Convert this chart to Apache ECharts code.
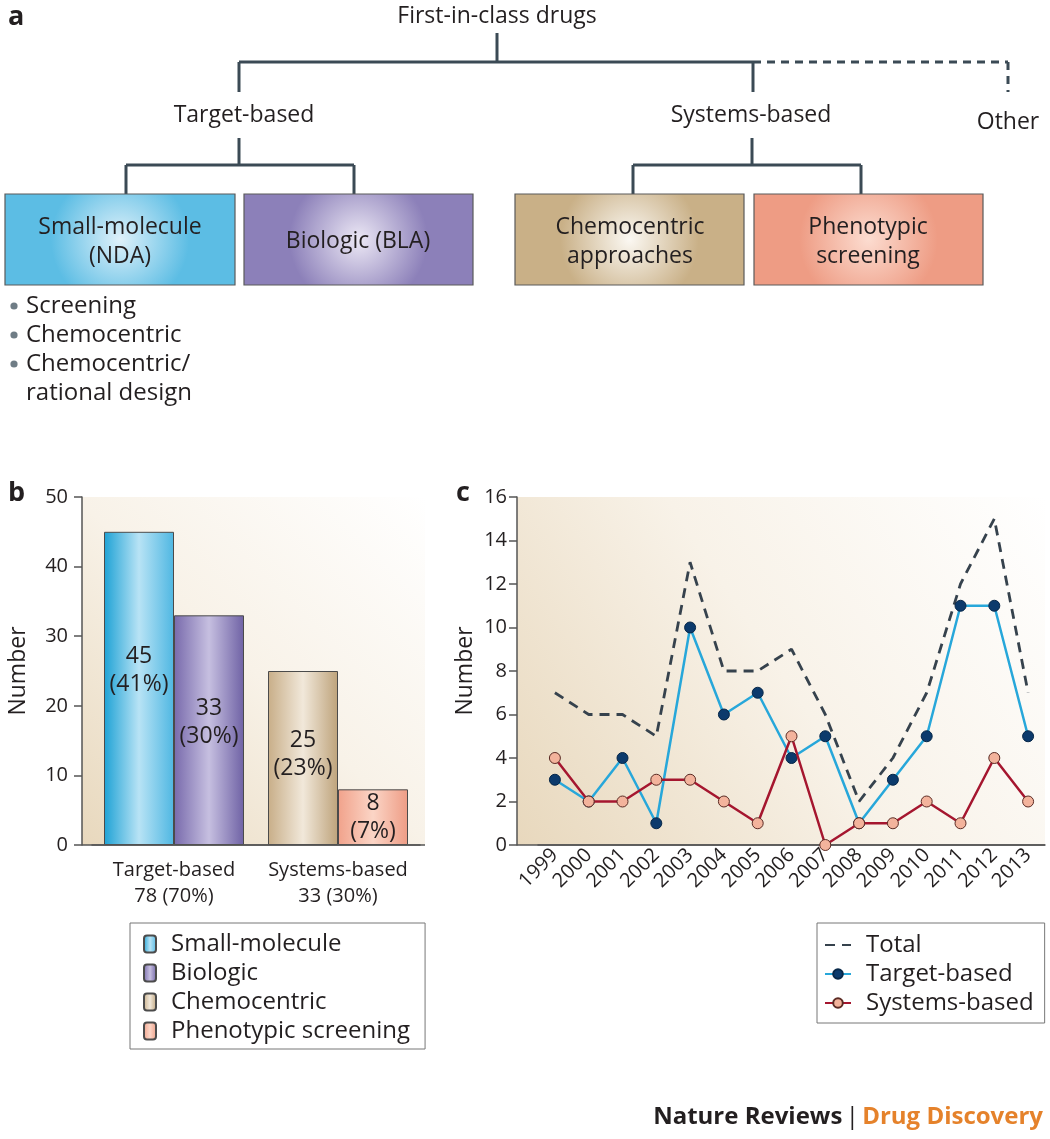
<!DOCTYPE html>
<html>
<head>
<meta charset="utf-8">
<script src="https://cdn.jsdelivr.net/npm/echarts@6/dist/echarts.min.js"></script>
<style>
html,body{margin:0;padding:0;background:#fff;}
#chart{width:1050px;height:1139px;}
</style>
</head>
<body>
<div id="chart"></div>
<script>
// ---------- data ----------
const approachGroups = ['Target-based', 'Systems-based'];
const groupTotals = ['78 (70%)', '33 (30%)'];
const smallMolecule = [45, '-'];
const biologic = [33, '-'];
const chemocentric = ['-', 25];
const phenotypic = ['-', 8];
const barPercents = {'Small-molecule': '41%', 'Biologic': '30%', 'Chemocentric': '23%', 'Phenotypic screening': '7%'};
const barTicks = {min: 0, max: 50, interval: 10};

const years = ['1999','2000','2001','2002','2003','2004','2005','2006','2007','2008','2009','2010','2011','2012','2013'];
const totalDrugs   = [7, 6, 6, 5, 13, 8, 8, 9, 6, 2, 4, 7, 12, 15, 7];
const targetBased  = [3, 2, 4, 1, 10, 6, 7, 4, 5, 1, 3, 5, 11, 11, 5];
const systemsBased = [4, 2, 2, 3, 3, 2, 1, 5, 0, 1, 1, 2, 1, 4, 2];
const lineTicks = {min: 0, max: 16, interval: 2};

// ---------- styling helpers ----------
const FONT = '"Open Sans", "Noto Sans", sans-serif';
const INK = '#231f20';
const TREE = '#3b4a55';
function hGrad(edgeL, mid, edgeR){
  return {type:'linear', x:0, y:0, x2:1, y2:0, colorStops:[
    {offset:0, color:edgeL},{offset:0.5, color:mid},{offset:1, color:edgeR}]};
}
function rGrad(center, edge){
  return {type:'radial', x:0.5, y:0.5, r:0.75, colorStops:[
    {offset:0, color:center},{offset:1, color:edge}]};
}
function bgGrad(){
  return {type:'linear', x:0, y:1, x2:1, y2:0, colorStops:[
    {offset:0, color:'#e8d8bd'},{offset:0.5, color:'#f8f2e8'},{offset:1, color:'#ffffff'}]};
}
function line(x1,y1,x2,y2,dashed){
  return {type:'line', shape:{x1,y1,x2,y2}, style:{stroke:TREE, lineWidth:3, lineDash: dashed ? [8,6] : null}};
}
function txt(text,x,y,opt){
  opt = opt || {};
  return {type:'text', x, y, style:{text, fill: opt.fill || INK, fontSize: opt.size || 23,
    fontFamily: FONT, fontWeight: opt.weight || 'normal',
    textAlign: opt.align || 'center', textVerticalAlign:'middle'}};
}
function box(x,y,w,h,fill){
  return {type:'rect', shape:{x,y,width:w,height:h}, style:{fill, stroke:'#5a5a5a', lineWidth:1.2}};
}
function dot(x,y){
  return {type:'circle', shape:{cx:x, cy:y, r:3.6}, style:{fill:'#6f7d86'}};
}

const elements = [
  // backgrounds of plot areas and axis base lines
  {type:'rect', z:-5, shape:{x:82, y:497, width:343, height:348}, style:{fill:bgGrad()}},
  {type:'rect', z:-5, shape:{x:517, y:497, width:528, height:348}, style:{fill:bgGrad()}},
  {type:'line', z:5, shape:{x1:82, y1:845, x2:425, y2:845}, style:{stroke:'#555', lineWidth:1.5}},
  {type:'line', z:5, shape:{x1:517, y1:845, x2:1045, y2:845}, style:{stroke:'#555', lineWidth:1.5}},
  // panel letters
  txt('a', 8, 17, {size:27, weight:'bold', align:'left'}),
  txt('b', 8, 493, {size:27, weight:'bold', align:'left'}),
  txt('c', 456, 493, {size:27, weight:'bold', align:'left'}),
  // tree
  txt('First-in-class drugs', 497, 16),
  line(497,33,497,62),
  line(239,62,753,62),
  line(753,62,1008,62,true),
  line(1008,62,1008,92,true),
  line(239,62,239,92),
  line(753,62,753,92),
  txt('Target-based', 244, 115),
  txt('Systems-based', 751, 115),
  txt('Other', 1008, 122),
  line(239,138,239,165),
  line(126,165,354,165),
  line(126,165,126,194),
  line(354,165,354,194),
  line(752,138,752,165),
  line(633,165,861,165),
  line(633,165,633,194),
  line(861,165,861,194),
  box(5,194,230,91, rGrad('#dff1fa', '#5cbde4')),
  box(244,194,229,91, rGrad('#ece8f5', '#8c80b9')),
  box(515,194,229,91, rGrad('#fbf8f2', '#c9b087')),
  box(754,194,229,91, rGrad('#fcdcd0', '#ee9c84')),
  txt('Small-molecule', 120, 227),
  txt('(NDA)', 120, 256),
  txt('Biologic (BLA)', 358, 241),
  txt('Chemocentric', 630, 227),
  txt('approaches', 630, 256),
  txt('Phenotypic', 868, 227),
  txt('screening', 868, 256),
  dot(14,306), dot(14,335), dot(14,364),
  txt('Screening', 26, 306, {align:'left', size:24}),
  txt('Chemocentric', 26, 335, {align:'left', size:24}),
  txt('Chemocentric/', 26, 364, {align:'left', size:24}),
  txt('rational design', 26, 393, {align:'left', size:24}),
  // footer
  {type:'text', x:1043, y:1117, style:{
    text:'{a|Nature Reviews} {s||} {b|Drug Discovery}', textAlign:'right', textVerticalAlign:'middle',
    rich:{
      a:{fontSize:24, fontWeight:'bold', fill:INK, fontFamily:FONT},
      s:{fontSize:24, fontWeight:'normal', fill:INK, fontFamily:FONT},
      b:{fontSize:24, fontWeight:'bold', fill:'#e5822b', fontFamily:FONT}
    }}}
];

function barSeries(name, data, stack, color, labelShift){
  return {
    name, type:'bar', data, stack, xAxisIndex:0, yAxisIndex:0,
    barWidth:70, barGap:'0%',
    itemStyle:{color, borderColor:'#4b4b4b', borderWidth:1},
    label:{show:true, position:'inside', offset:[0, labelShift], fontSize:23, lineHeight:28, color:INK, fontFamily:FONT,
      formatter: p => p.value + '\n(' + barPercents[name] + ')'}
  };
}

const axisLineStyle = {lineStyle:{color:'#555', width:1.5}};
const legendText = {fontSize:24, lineHeight:24, color:INK, fontFamily:FONT, padding:[0,0,0,10]};
const option = {
  animation:false,
  textStyle:{fontFamily:FONT, color:INK},
  graphic:{elements},
  grid:[
    {left:92, top:497, width:328, height:348},
    {left:538, top:497, width:507, height:348}
  ],
  xAxis:[
    {type:'category', gridIndex:0, data:approachGroups,
      axisLine:axisLineStyle,
      axisTick:{alignWithLabel:true, length:12, lineStyle:{color:'#555', width:1.5}},
      axisLabel:{fontSize:20, lineHeight:26, color:INK, margin:12, interval:0, fontFamily:FONT,
        formatter:(v, i) => v + '\n' + groupTotals[i]}},
    {type:'category', gridIndex:1, data:years,
      axisLine:axisLineStyle,
      axisTick:{alignWithLabel:true, length:12, lineStyle:{color:'#555', width:1.5}},
      axisLabel:{fontSize:20, color:INK, rotate:45, margin:7, interval:0, fontFamily:FONT}}
  ],
  yAxis:[
    {type:'value', gridIndex:0, min:barTicks.min, max:barTicks.max, interval:barTicks.interval, offset:10,
      name:'Number', nameLocation:'middle', nameGap:52,
      nameTextStyle:{fontSize:23, color:INK, fontFamily:FONT},
      axisLine:{show:true, lineStyle:{color:'#555', width:1.5}},
      axisTick:{show:true, length:8, lineStyle:{color:'#555', width:1.5}},
      axisLabel:{fontSize:20, color:INK, margin:14, fontFamily:FONT},
      splitLine:{show:false}},
    {type:'value', gridIndex:1, min:lineTicks.min, max:lineTicks.max, interval:lineTicks.interval, offset:21,
      name:'Number', nameLocation:'middle', nameGap:40,
      nameTextStyle:{fontSize:23, color:INK, fontFamily:FONT},
      axisLine:{show:true, lineStyle:{color:'#555', width:1.5}},
      axisTick:{show:true, length:8, lineStyle:{color:'#555', width:1.5}},
      axisLabel:{fontSize:20, color:INK, margin:10, fontFamily:FONT},
      splitLine:{show:false}}
  ],
  legend:[
    {left:130, top:923, orient:'vertical', padding:[9,15,6,13], itemGap:5,
      itemWidth:12, itemHeight:17, borderColor:'#777', borderWidth:1,
      textStyle:legendText,
      data:['Small-molecule','Biologic','Chemocentric','Phenotypic screening']},
    {left:817, top:923, orient:'vertical', padding:[10,11,8,7], itemGap:5,
      itemWidth:26, itemHeight:12, borderColor:'#777', borderWidth:1,
      textStyle:legendText,
      data:[{name:'Total', itemStyle:{opacity:0}}, 'Target-based', 'Systems-based']}
  ],
  series:[
    barSeries('Small-molecule', smallMolecule, 'left', hGrad('#1ea2d5', '#b8e3f5', '#4fb7e2'), -18),
    barSeries('Biologic', biologic, 'right', hGrad('#786aac', '#c6bfe0', '#6f62a5'), -8),
    barSeries('Chemocentric', chemocentric, 'left', hGrad('#c8ae88', '#f1e8da', '#bea37b'), -4),
    barSeries('Phenotypic screening', phenotypic, 'right', hGrad('#f1a28b', '#fbd5c6', '#ee9c85'), 0),
    {name:'Total', type:'line', xAxisIndex:1, yAxisIndex:1, data:totalDrugs,
      symbol:'none', lineStyle:{color:'#36424d', width:2.8, type:[10,7]},
      itemStyle:{color:'#36424d'}, z:3},
    {name:'Target-based', type:'line', xAxisIndex:1, yAxisIndex:1, data:targetBased,
      symbol:'circle', symbolSize:11, showAllSymbol:true,
      lineStyle:{color:'#27a7da', width:2.5},
      itemStyle:{color:'#0c3a6c', borderColor:'#072748', borderWidth:1}, z:4},
    {name:'Systems-based', type:'line', xAxisIndex:1, yAxisIndex:1, data:systemsBased,
      symbol:'circle', symbolSize:11, showAllSymbol:true,
      lineStyle:{color:'#a5162f', width:2.5},
      itemStyle:{color:'#f3b39c', borderColor:'#5b2b24', borderWidth:1}, z:5}
  ]
};

const chart = echarts.init(document.getElementById('chart'), null, {renderer:'canvas'});
chart.setOption(option);
</script>
</body>
</html>
